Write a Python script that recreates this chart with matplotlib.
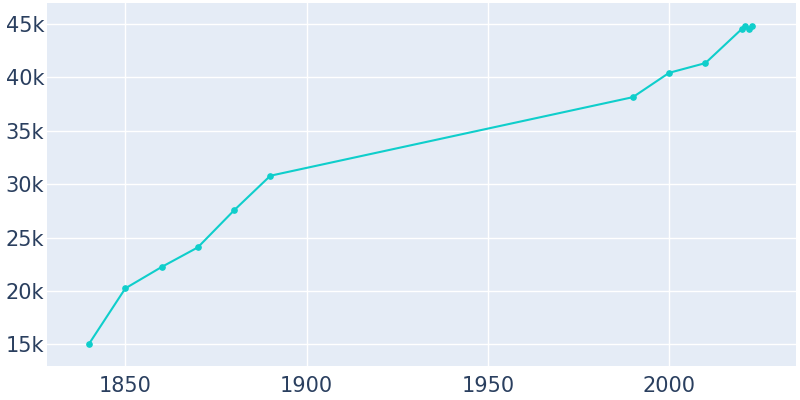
import matplotlib
matplotlib.use("Agg")
import matplotlib.pyplot as plt
from matplotlib.ticker import FuncFormatter, MultipleLocator

years = [1840, 1850, 1860, 1870, 1880, 1890, 1990, 2000, 2010, 2020, 2021, 2022, 2023]
population = [15050, 20240, 22240, 24080, 27550, 30790, 38150, 40430, 41340, 44520, 44850, 44500, 44780]

line_color = "#0fcecb"
bg_color = "#E5ECF6"
text_color = "#2a3f5f"

fig = plt.figure(figsize=(8, 4), dpi=100)
ax = fig.add_axes([47/800, 34/400, (796-47)/800, (366-3)/400])
ax.set_facecolor(bg_color)
ax.plot(years, population, color=line_color, linewidth=1.5, marker="o",
        markersize=3.8, zorder=3)

ax.set_xlim(1828.4, 2035)
ax.set_ylim(12970, 46970)
ax.xaxis.set_major_locator(MultipleLocator(50))
ax.yaxis.set_major_locator(MultipleLocator(5000))
ax.yaxis.set_major_formatter(FuncFormatter(lambda v, p: f"{int(v/1000)}k"))
ax.grid(True, color="white", linewidth=1)
ax.set_axisbelow(True)
for s in ax.spines.values():
    s.set_visible(False)
ax.tick_params(axis="both", length=0, labelsize=15, colors=text_color)
ax.tick_params(axis="y", pad=2)
ax.tick_params(axis="x", pad=7)

fig.savefig("out.png", dpi=100)
